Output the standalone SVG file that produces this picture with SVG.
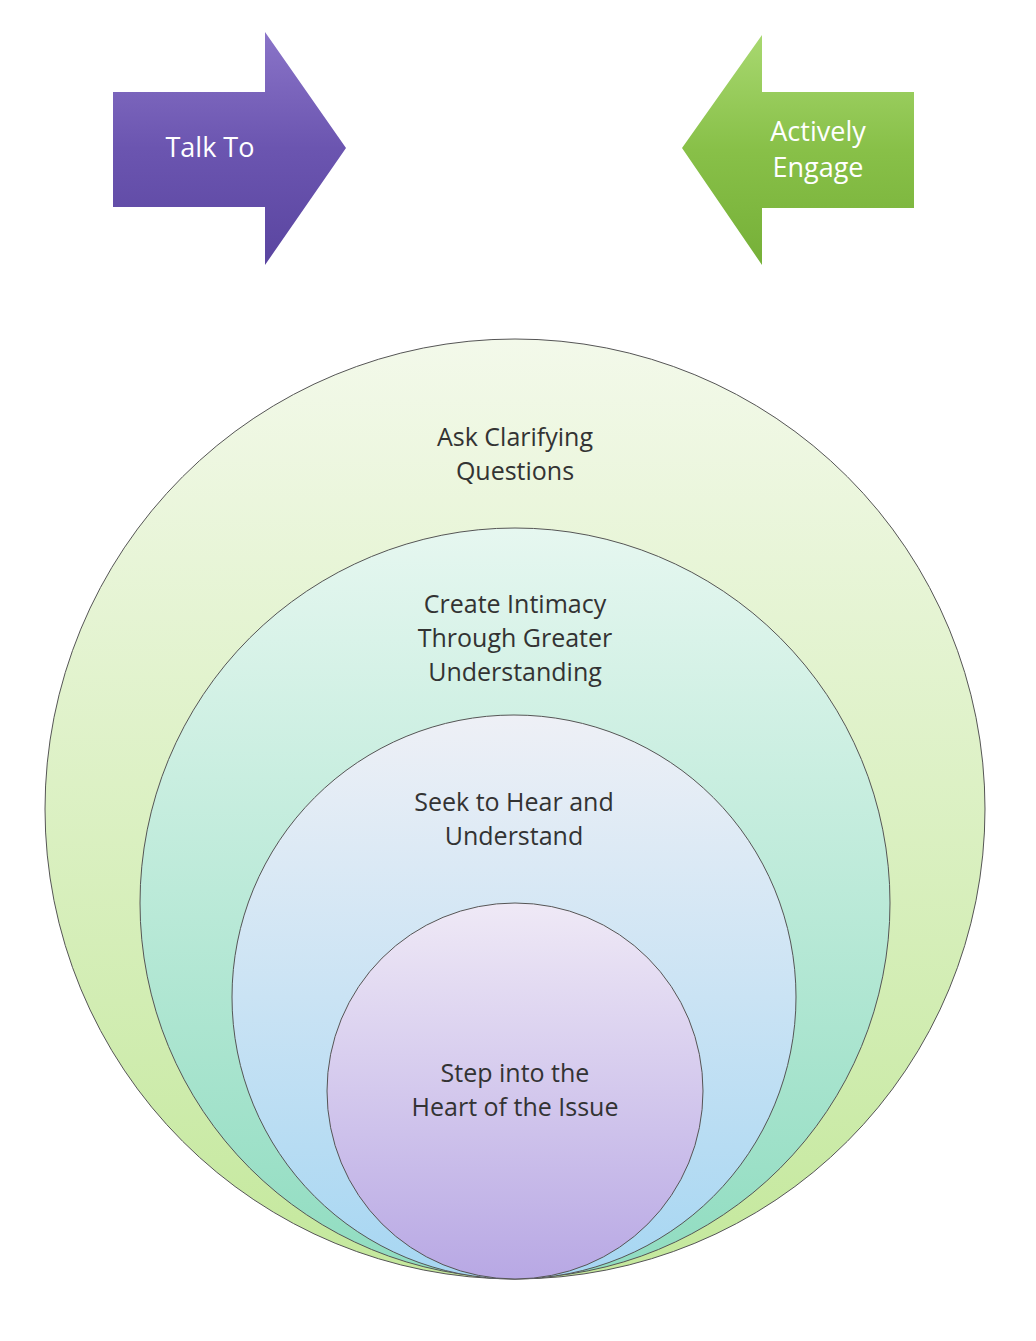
<svg xmlns="http://www.w3.org/2000/svg" width="1036" height="1341" viewBox="0 0 1036 1341">
<defs>
<linearGradient id="g1" x1="0" y1="0" x2="0" y2="1"><stop offset="0" stop-color="#f3f9ea"/><stop offset="1" stop-color="#c4e89c"/></linearGradient>
<linearGradient id="g2" x1="0" y1="0" x2="0" y2="1"><stop offset="0" stop-color="#e6f7f0"/><stop offset="1" stop-color="#8fdcc0"/></linearGradient>
<linearGradient id="g3" x1="0" y1="0" x2="0" y2="1"><stop offset="0" stop-color="#eef0f6"/><stop offset="1" stop-color="#a6d6f2"/></linearGradient>
<linearGradient id="g4" x1="0" y1="0" x2="0" y2="1"><stop offset="0" stop-color="#efe9f6"/><stop offset="1" stop-color="#b8a8e4"/></linearGradient>
<linearGradient id="ap" x1="0" y1="0" x2="0" y2="1"><stop offset="0" stop-color="#8a74c8"/><stop offset="0.5" stop-color="#6b55b0"/><stop offset="1" stop-color="#5a45a0"/></linearGradient>
<linearGradient id="ag" x1="0" y1="0" x2="0" y2="1"><stop offset="0" stop-color="#a8d870"/><stop offset="0.5" stop-color="#88c048"/><stop offset="1" stop-color="#76b038"/></linearGradient>
</defs>
<style>
.c{stroke:#555;stroke-width:1}
.t{font-family:"Open Sans","Liberation Sans",sans-serif;font-size:25px;fill:#333;text-anchor:middle}
.w{font-family:"Open Sans","Liberation Sans",sans-serif;font-size:27px;fill:#fff;text-anchor:middle}
</style>
<rect width="1036" height="1341" fill="#fff"/>
<g id="arrow-talk"><path d="M113 92H265V32L346 148L265 265V207H113Z" fill="url(#ap)"/><text class="w" x="210" y="157">Talk To</text></g>
<g id="arrow-engage"><path d="M914 92H762V35L682 148L762 265V208H914Z" fill="url(#ag)"/><text class="w" x="818" y="141">Actively</text><text class="w" x="818" y="177">Engage</text></g>
<g id="c1"><circle class="c" cx="515" cy="809" r="470" fill="url(#g1)"/><text class="t" x="515" y="446">Ask Clarifying</text><text class="t" x="515" y="480">Questions</text></g>
<g id="c2"><circle class="c" cx="515" cy="903" r="375" fill="url(#g2)"/><text class="t" x="515" y="613">Create Intimacy</text><text class="t" x="515" y="647">Through Greater</text><text class="t" x="515" y="681">Understanding</text></g>
<g id="c3"><circle class="c" cx="514" cy="997" r="282" fill="url(#g3)"/><text class="t" x="514" y="811">Seek to Hear and</text><text class="t" x="514" y="845">Understand</text></g>
<g id="c4"><circle class="c" cx="515" cy="1091" r="188" fill="url(#g4)"/><text class="t" x="515" y="1082">Step into the</text><text class="t" x="515" y="1116">Heart of the Issue</text></g>
<g id="connectors"/>
</svg>
